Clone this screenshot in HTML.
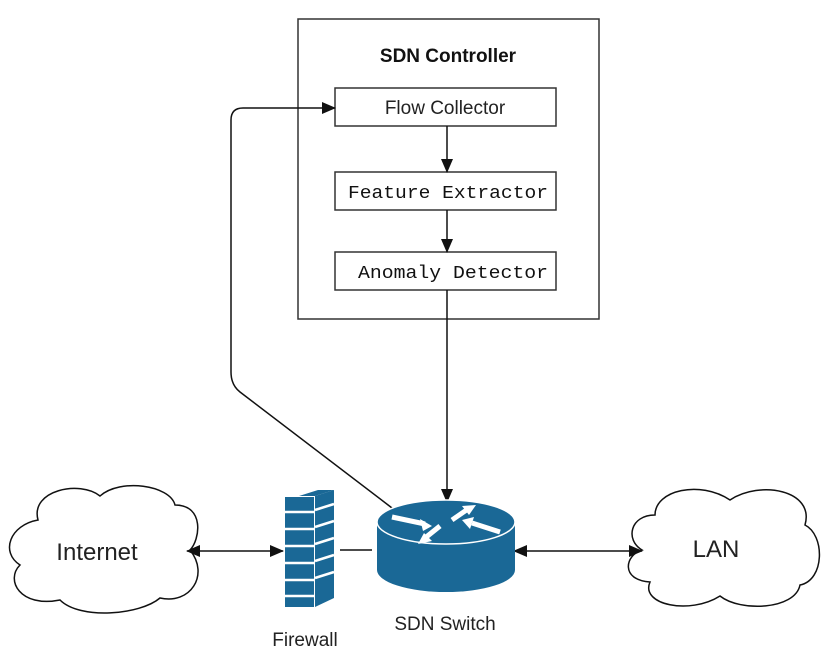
<!DOCTYPE html>
<html><head><style>body{margin:0;background:#fff}svg{display:block}</style></head><body>
<svg width="829" height="658" viewBox="0 0 829 658" xmlns="http://www.w3.org/2000/svg">
<defs><marker id="a" markerWidth="14" markerHeight="12" refX="13" refY="6" orient="auto-start-reverse" markerUnits="userSpaceOnUse"><path d="M0,0 L14,6 L0,12 z" fill="#111"/></marker></defs>
<g font-family="Liberation Sans, sans-serif">
<rect x="298" y="19" width="301" height="300" fill="none" stroke="#333" stroke-width="1.5"/>
<text x="448" y="62" text-anchor="middle" font-size="19" font-weight="bold" fill="#111">SDN Controller</text>
<rect x="335" y="88" width="221" height="38" fill="#fff" stroke="#333" stroke-width="1.5"/>
<text x="445" y="114" text-anchor="middle" font-size="19" fill="#222">Flow Collector</text>
<rect x="335" y="172" width="221" height="38" fill="#fff" stroke="#333" stroke-width="1.5"/>
<text x="348" y="198" font-size="18" font-family="Liberation Mono, monospace" fill="#111" textLength="200" lengthAdjust="spacingAndGlyphs">Feature Extractor</text>
<rect x="335" y="252" width="221" height="38" fill="#fff" stroke="#333" stroke-width="1.5"/>
<text x="358" y="278" font-size="18" font-family="Liberation Mono, monospace" fill="#111" textLength="190" lengthAdjust="spacingAndGlyphs">Anomaly Detector</text>
<g stroke="#111" stroke-width="1.5" fill="none">
<line x1="447" y1="126" x2="447" y2="172" marker-end="url(#a)"/>
<line x1="447" y1="210" x2="447" y2="252" marker-end="url(#a)"/>
<line x1="447" y1="290" x2="447" y2="502" marker-end="url(#a)"/>
<path d="M392,508 L240,392 Q231,385 231,372 L231,120 Q231,108 243,108 L335,108" marker-end="url(#a)"/>
<line x1="187" y1="551" x2="283" y2="551" marker-start="url(#a)" marker-end="url(#a)"/>
<line x1="340" y1="550" x2="372" y2="550"/>
<line x1="514" y1="551" x2="642" y2="551" marker-start="url(#a)" marker-end="url(#a)"/>
<path d="M38,520 C30,490 80,480 100,496 C120,478 170,485 175,505 C205,505 200,540 190,550 C210,575 190,605 160,598 C140,615 80,620 60,600 C20,608 5,580 20,565 C0,552 10,525 38,520 Z"/>
<path d="M655,515 C655,490 700,480 730,500 C760,480 815,490 805,525 C825,535 825,580 800,585 C795,610 740,612 720,596 C690,615 640,605 650,582 C620,580 625,555 642,550 C625,540 630,515 655,515 Z"/>
</g>
<text x="97" y="560" text-anchor="middle" font-size="24" fill="#222">Internet</text>
<text x="716" y="557" text-anchor="middle" font-size="24" fill="#222">LAN</text>
<g fill="#1a6896">
<path d="M299,496 L318,490 L334,490 L315,496 Z"/>
<rect x="285" y="497" width="29" height="110"/>
<path d="M315,496 L334,490 L334,598 L315,607 Z"/>
</g>
<g stroke="#fff" stroke-width="2.5">
<line x1="285" y1="512" x2="314" y2="512"/><line x1="285" y1="529" x2="314" y2="529"/><line x1="285" y1="546" x2="314" y2="546"/><line x1="285" y1="563" x2="314" y2="563"/><line x1="285" y1="580" x2="314" y2="580"/><line x1="285" y1="596" x2="314" y2="596"/>
<line x1="315" y1="510" x2="334" y2="504"/><line x1="315" y1="527" x2="334" y2="521"/><line x1="315" y1="544" x2="334" y2="538"/><line x1="315" y1="561" x2="334" y2="555"/><line x1="315" y1="578" x2="334" y2="572"/>
</g>
<path d="M377,522 L377,570 A69,22 0 0 0 515,570 L515,522 Z" fill="#1a6896"/>
<ellipse cx="446" cy="522" rx="69" ry="22" fill="#1a6896" stroke="#fff" stroke-width="1.5"/>
<g stroke="#fff" stroke-width="5" fill="#fff">
<line x1="392" y1="517" x2="425" y2="524"/><line x1="500" y1="532" x2="472" y2="523"/>
<line x1="452" y1="520" x2="468" y2="509"/><line x1="440" y1="526" x2="425" y2="538"/>
</g>
<g fill="#fff">
<path d="M432,526 L420,519 L423,531 Z"/><path d="M462,520 L474,517 L470,529 Z"/>
<path d="M476,505 L462,506 L469,515 Z"/><path d="M418,544 L432,541 L424,533 Z"/>
</g>
<text x="445" y="630" text-anchor="middle" font-size="19" fill="#222">SDN Switch</text>
<text x="305" y="646" text-anchor="middle" font-size="19" fill="#222">Firewall</text>
</g>
</svg>
</body></html>
